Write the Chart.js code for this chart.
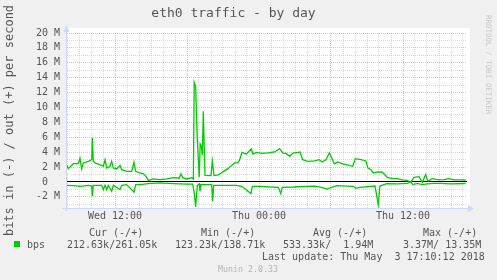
<!DOCTYPE html>
<html>
<head>
<meta charset="utf-8">
<script src="https://cdn.jsdelivr.net/npm/chart.js@4/dist/chart.umd.min.js"></script>
<style>
  body { margin: 0; background: #f0f0f0; }
  #wrap { position: relative; width: 497px; height: 280px; font-family: 'DejaVu Sans Mono', monospace; color: #555; }
  canvas { position: absolute; left: 0; top: 0; }
  .t { position: absolute; font-size: 10px; line-height: 12px; white-space: pre; }
  .sq { position: absolute; left: 14px; top: 241px; width: 6px; height: 6px; background: #00cc00; }
  .wm { position: absolute; left: 484px; top: 15px; font-size: 7.5px; line-height: 8px; color: #c8c8c8; writing-mode: vertical-rl; white-space: pre; }
  .ver { position: absolute; left: 218px; top: 264px; font-size: 8.3px; line-height: 10px; color: #b4b4b4; white-space: pre; }
</style>
</head>
<body>
<div id="wrap">
  <canvas id="traffic" width="497" height="280"></canvas>
  <div class="wm">RRDTOOL / TOBI OETIKER</div>
  <div class="t" style="left:89px;top:227px">Cur (-/+)</div>
  <div class="t" style="left:201px;top:227px">Min (-/+)</div>
  <div class="t" style="left:313px;top:227px">Avg (-/+)</div>
  <div class="t" style="left:423px;top:227px">Max (-/+)</div>
  <div class="sq"></div>
  <div class="t" style="left:27px;top:239px">bps</div>
  <div class="t" style="left:67px;top:239px">212.63k/261.05k</div>
  <div class="t" style="left:175px;top:239px">123.23k/138.71k</div>
  <div class="t" style="left:283px;top:239px">533.33k/  1.94M</div>
  <div class="t" style="left:403px;top:239px">3.37M/ 13.35M</div>
  <div class="t" style="left:262px;top:251px">Last update: Thu May  3 17:10:12 2018</div>
  <div class="ver">Munin 2.0.33</div>
</div>
<script>
// eth0 traffic, hours counted from Wed 00:00, values in Mbit/s
// out (+) series
var outTimes = [8.0, 8.11, 8.53, 8.94, 9.08, 9.22, 9.36, 9.78, 10.06, 10.11, 10.19, 10.33, 10.89, 11.03, 11.17, 11.31,
  11.58, 11.72, 11.86, 12.14, 12.42, 12.56, 12.97, 13.39, 13.58, 13.72, 14.08, 14.36, 14.58, 14.78, 15.19, 15.75,
  16.31, 16.86, 17.36, 17.5, 17.64, 17.97, 18.39, 18.53, 18.6, 18.72, 18.85, 19.02, 19.1, 19.2, 19.28, 19.36, 19.5,
  20.0, 20.11, 20.25, 20.61, 20.86, 21.14, 21.42, 21.69, 21.97, 22.25, 22.39, 22.58, 22.94, 23.36, 23.5, 23.78,
  24.19, 24.75, 25.31, 25.72, 26.0, 26.28, 26.56, 26.83, 27.25, 27.42, 27.64, 28.06, 28.61, 29.03, 29.25, 29.58,
  29.86, 30.0, 30.28, 30.56, 30.97, 31.53, 31.81, 32.03, 32.5, 32.92, 33.06, 33.33, 33.53, 33.86, 34.28, 34.69,
  35.11, 35.53, 35.94, 36.36, 36.64, 36.92, 37.33, 37.61, 37.89, 38.08, 38.44, 39.0, 39.42, 39.83, 40.25, 40.81, 41.22];
var outMbps = [2.23, 1.78, 2.45, 2.45, 3.2, 1.75, 2.55, 2.77, 3.0, 5.9, 2.77, 2.55, 2.23, 2.1, 3.0, 1.88,
  2.1, 2.77, 1.88, 1.75, 2.23, 1.65, 1.42, 1.42, 2.63, 1.42, 1.2, 1.1, 0.75, 0.21, 0.4, 0.3,
  0.4, 0.57, 0.5, 1.1, 0.57, 0.4, 0.57, 0.4, 13.35, 12.8, 6.0, 0.62, 5.1, 4.8, 3.6, 9.5, 0.89,
  0.85, 2.77, 0.85, 0.95, 1.2, 1.52, 1.79, 2.19, 2.55, 2.55, 2.99, 3.97, 3.75, 4.43, 3.75, 3.97,
  3.84, 3.9, 4.03, 4.47, 3.88, 3.8, 3.44, 3.88, 3.97, 4.03, 2.99, 2.77, 2.82, 2.99, 2.68, 2.99,
  3.89, 3.44, 2.42, 2.68, 2.42, 2.23, 2.1, 3.12, 2.99, 2.82, 1.88, 1.65, 1.2, 1.34, 1.3, 0.62,
  0.44, 0.44, 0.27, 0.2, -0.05, 0.62, 0.7, -0.05, 0.98, 0.1, 0.44, 0.27, 0.3, 0.44, 0.27, 0.27, 0.26];

// in (-) series
var inTimes = [8.0, 8.53, 9.08, 9.78, 10.06, 10.11, 10.19, 10.89, 11.03, 11.17, 11.31, 11.44, 11.72, 11.86, 12.42,
  12.56, 12.97, 13.58, 13.72, 14.08, 14.78, 15.75, 16.86, 17.97, 18.47, 18.61, 18.72, 18.86, 19.03, 19.08, 19.17,
  19.64, 20.06, 20.14, 20.22, 20.75, 22.14, 22.56, 23.33, 23.44, 24.08, 24.92, 25.61, 25.81, 25.94, 26.86, 27.97,
  28.67, 29.36, 29.64, 30.47, 31.86, 32.08, 32.42, 33.67, 33.94, 34.08, 34.64, 35.53, 36.36, 36.64, 36.83, 37.19,
  37.61, 38.03, 38.58, 39.14, 39.97, 41.22];
var inMbps = [-0.45, -0.5, -0.59, -0.45, -0.55, -1.93, -0.45, -0.45, -1.03, -0.45, -1.03, -0.45, -1.25, -0.45, -1.03,
  -0.45, -0.36, -1.39, -0.36, -0.36, -0.23, -0.13, -0.23, -0.3, -0.3, -1.5, -3.37, -0.45, -0.27, -1.26, -0.36,
  -0.36, -0.36, -2.6, -0.45, -0.45, -0.45, -0.59, -1.57, -0.59, -0.59, -0.68, -0.72, -1.57, -0.72, -0.68, -0.59,
  -0.55, -0.8, -0.95, -0.5, -0.59, -0.85, -0.72, -0.55, -3.05, -0.55, -0.23, -0.27, -0.2, 0.0, -0.36, -0.2,
  -0.36, -0.27, -0.2, -0.2, -0.27, -0.21];

// axis labels
var xTickHours = [12, 24, 36];
var xTickText = ['Wed 12:00', 'Thu 00:00', 'Thu 12:00'];
var yTickValues = [-2, 0, 2, 4, 6, 8, 10, 12, 14, 16, 18, 20];

var majorColor = 'rgba(235, 140, 140, 0.6)';
var minorColor = 'rgba(190, 190, 190, 0.55)';
var axisColor = '#cfd6f8';

function toPoints(times, values) {
  return times.map(function (t, i) { return { x: t, y: values[i] }; });
}

var muninFrame = {
  id: 'muninFrame',
  beforeDraw: function (chart) {
    var a = chart.chartArea, ctx = chart.ctx;
    ctx.save();
    ctx.fillStyle = '#ffffff';
    ctx.fillRect(a.left - 1, a.top - 5, a.right - a.left + 4, a.bottom - a.top + 5);
    ctx.restore();
  },
  afterDraw: function (chart) {
    var a = chart.chartArea, ctx = chart.ctx;
    var x = Math.round(a.left) - 0.5, y = Math.round(a.bottom) + 0.5;
    ctx.save();
    ctx.strokeStyle = axisColor;
    ctx.fillStyle = axisColor;
    ctx.lineWidth = 1;
    ctx.beginPath();
    ctx.moveTo(x, a.bottom + 3);
    ctx.lineTo(x, a.top - 4);
    ctx.moveTo(x - 4, y);
    ctx.lineTo(a.right + 2, y);
    ctx.stroke();
    ctx.beginPath();
    ctx.moveTo(x, a.top - 8);
    ctx.lineTo(x - 3, a.top - 1);
    ctx.lineTo(x + 3, a.top - 1);
    ctx.fill();
    ctx.beginPath();
    ctx.moveTo(a.right + 7, y);
    ctx.lineTo(a.right + 1, y - 3.5);
    ctx.lineTo(a.right + 1, y + 3.5);
    ctx.fill();
    ctx.restore();
  }
};

Chart.defaults.font.family = "'DejaVu Sans Mono', monospace";
Chart.defaults.color = '#555';

new Chart(document.getElementById('traffic'), {
  type: 'line',
  data: {
    datasets: [{
      label: 'out',
      data: toPoints(outTimes, outMbps),
      borderColor: '#00cc00',
      borderWidth: 1.3,
      pointRadius: 0,
      tension: 0,
      fill: false
    }, {
      label: 'in',
      data: toPoints(inTimes, inMbps),
      borderColor: '#00cc00',
      borderWidth: 1.3,
      pointRadius: 0,
      tension: 0,
      fill: false
    }]
  },
  options: {
    responsive: false,
    animation: false,
    devicePixelRatio: 1,
    layout: { padding: { left: 0, right: 30, top: 0, bottom: 0 } },
    plugins: {
      legend: { display: false },
      tooltip: { enabled: false },
      title: {
        display: true,
        text: 'eth0 traffic - by day',
        font: { size: 13, weight: 'normal' },
        color: '#555',
        padding: { top: 6, bottom: 11.4 }
      }
    },
    scales: {
      x: {
        type: 'linear',
        min: 8,
        max: 8 + 400 / 12,
        afterBuildTicks: function (s) {
          var ticks = [];
          for (var h = 8; h <= 41; h++) ticks.push({ value: h });
          s.ticks = ticks;
        },
        afterFit: function (s) { s.height = 72; },
        ticks: {
          autoSkip: false,
          maxRotation: 0,
          padding: 2,
          font: { size: 10 },
          callback: function (v) {
            var i = xTickHours.indexOf(v);
            return i >= 0 ? xTickText[i] : '';
          }
        },
        grid: {
          drawTicks: false,
          color: function (c) {
            if (!c.tick) return minorColor;
            return c.tick.value % 6 === 0 ? majorColor : minorColor;
          }
        },
        border: { display: false, dash: [1, 1] }
      },
      y: {
        min: -3.5,
        max: 20,
        afterBuildTicks: function (s) {
          var ticks = [];
          for (var v = -3; v <= 20; v++) ticks.push({ value: v });
          s.ticks = ticks;
        },
        afterFit: function (s) { s.width = 67; },
        ticks: {
          autoSkip: false,
          padding: 7,
          font: { size: 10 },
          callback: function (v) {
            if (yTickValues.indexOf(v) < 0) return '';
            return v === 0 ? '0  ' : v + ' M';
          }
        },
        grid: {
          drawTicks: false,
          color: function (c) {
            if (!c.tick) return minorColor;
            var v = c.tick.value;
            if (v === 0) return '#000000';
            return v % 2 === 0 ? majorColor : minorColor;
          }
        },
        border: {
          display: false,
          dash: function (c) { return c.tick && c.tick.value === 0 ? [] : [1, 1]; }
        },
        title: {
          display: true,
          text: 'bits in (-) / out (+) per second',
          font: { size: 12 },
          color: '#555',
          padding: { top: 3, bottom: 0 }
        }
      }
    }
  },
  plugins: [muninFrame]
});
</script>
</body>
</html>
